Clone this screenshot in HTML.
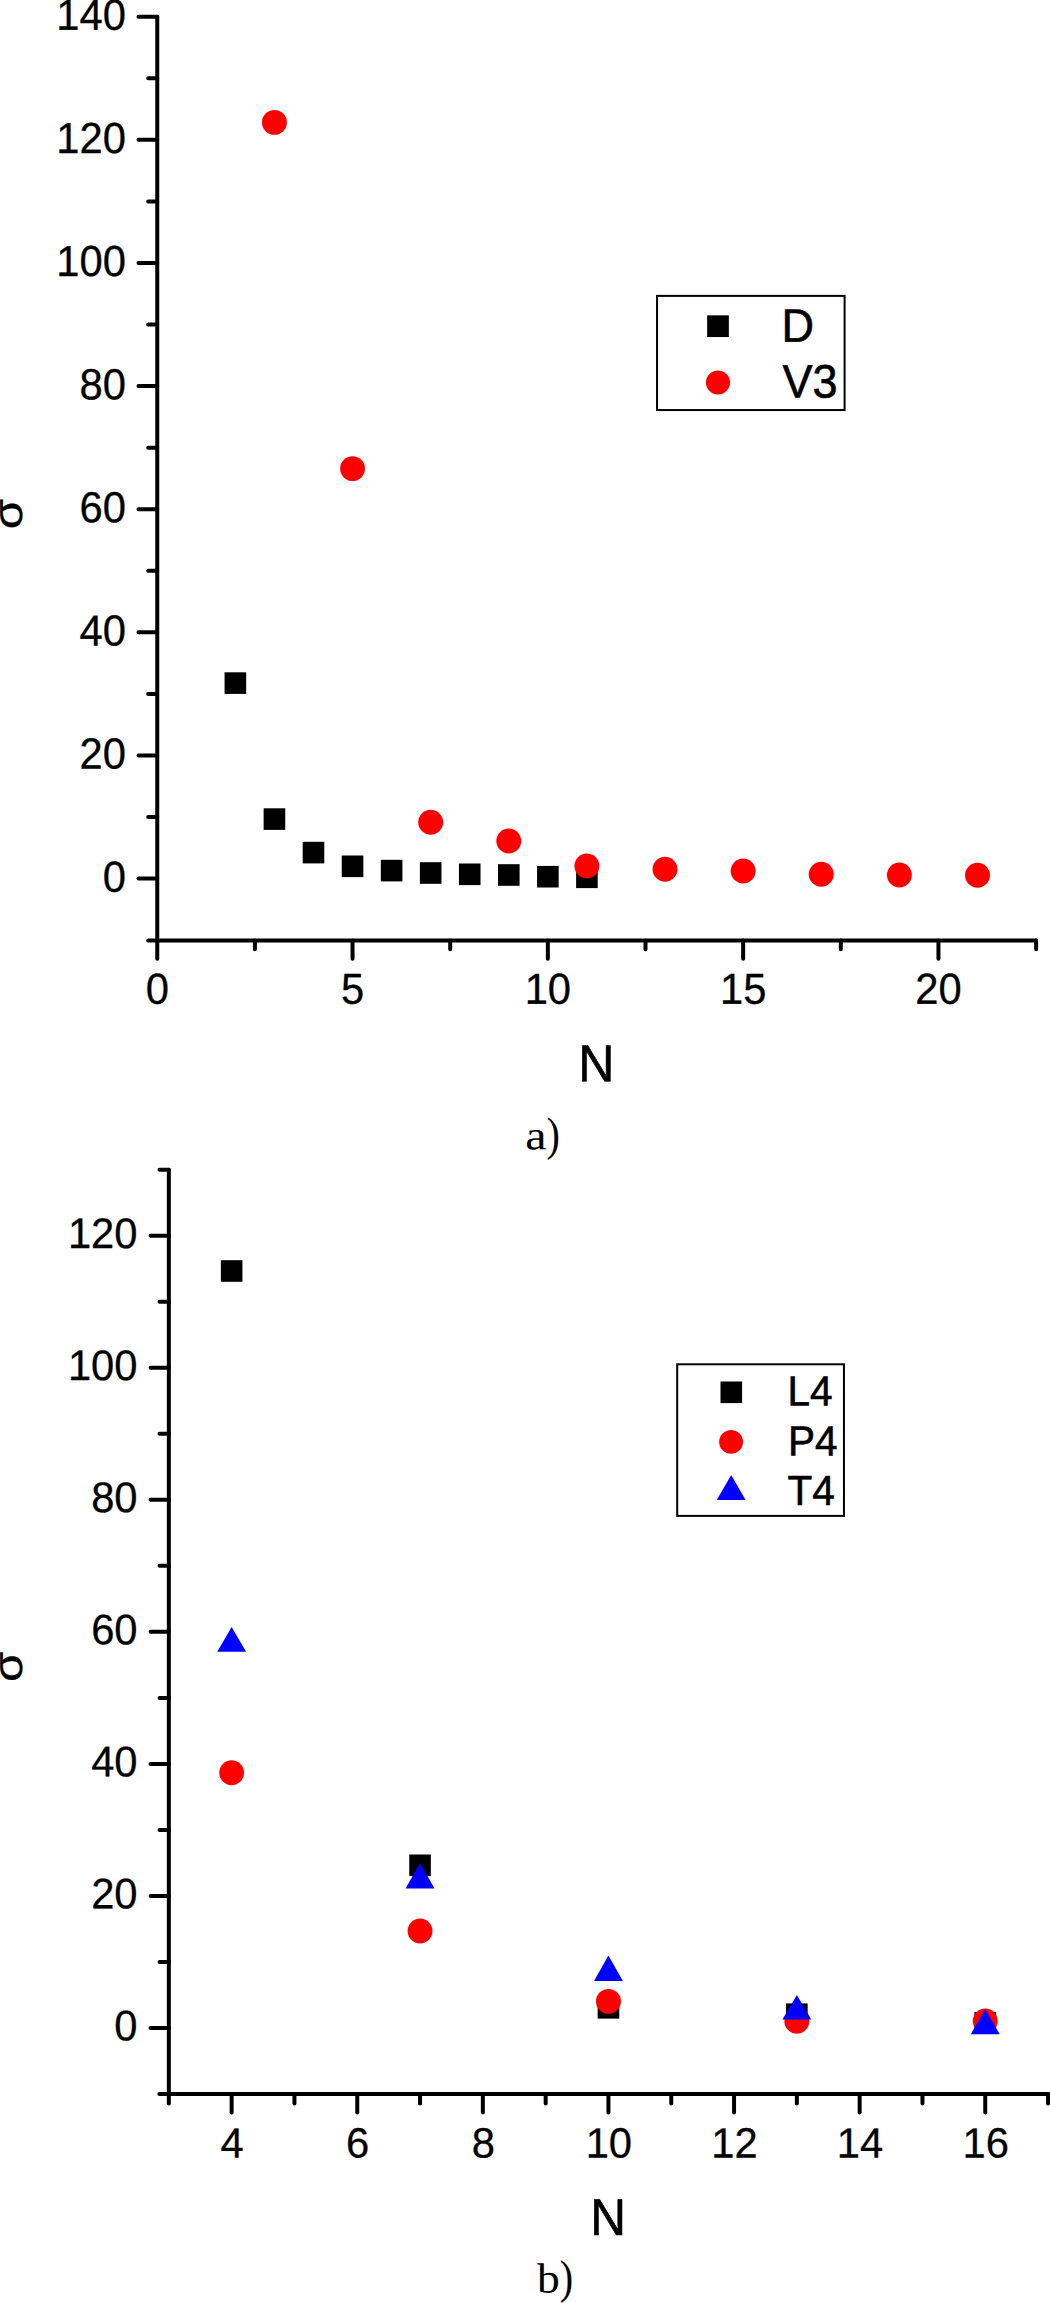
<!DOCTYPE html>
<html><head><meta charset="utf-8"><title>plots</title>
<style>html,body{margin:0;padding:0;background:#fff}svg{display:block}.t{font-family:"Liberation Sans",sans-serif;fill:#000;stroke:#000;stroke-width:.3;text-rendering:geometricPrecision}.b{stroke-width:.6}.s{font-family:"Liberation Serif",serif;fill:#000}.ax{stroke:#000;stroke-width:4.0;stroke-linecap:round;fill:none}</style></head><body>
<svg width="1050" height="2303" viewBox="0 0 1050 2303">
<rect width="1050" height="2303" fill="#fff"/>
<g class="ax">
<path d="M157.25 16.7 V958.8"/>
<path d="M148.2 940.4 H1036.1"/>
<path d="M157.25 878.6H138.5M157.25 817.04H148.2M157.25 755.47H138.5M157.25 693.91H148.2M157.25 632.34H138.5M157.25 570.78H148.2M157.25 509.22H138.5M157.25 447.65H148.2M157.25 386.09H138.5M157.25 324.52H148.2M157.25 262.96H138.5M157.25 201.4H148.2M157.25 139.83H138.5M157.25 78.27H148.2M157.25 16.7H138.5M254.9 940.4V949.2M352.55 940.4V958.8M450.2 940.4V949.2M547.85 940.4V958.8M645.5 940.4V949.2M743.15 940.4V958.8M840.8 940.4V949.2M938.45 940.4V958.8M1036.1 940.4V949.2"/>
</g>
<g class="t" font-size="41.7" text-anchor="end">
<text transform="translate(125.9 891.75) rotate(0.03) scale(1 1.04)">0</text>
<text transform="translate(125.9 768.62) rotate(0.03) scale(1 1.04)">20</text>
<text transform="translate(125.9 645.49) rotate(0.03) scale(1 1.04)">40</text>
<text transform="translate(125.9 522.37) rotate(0.03) scale(1 1.04)">60</text>
<text transform="translate(125.9 399.24) rotate(0.03) scale(1 1.04)">80</text>
<text transform="translate(125.9 276.11) rotate(0.03) scale(1 1.04)">100</text>
<text transform="translate(125.9 152.98) rotate(0.03) scale(1 1.04)">120</text>
<text transform="translate(125.9 29.85) rotate(0.03) scale(1 1.04)">140</text>
</g>
<g class="t" font-size="41.7" text-anchor="middle">
<text transform="translate(157.25 1003.7) rotate(0.03) scale(1 1.04)">0</text>
<text transform="translate(352.55 1003.7) rotate(0.03) scale(1 1.04)">5</text>
<text transform="translate(547.85 1003.7) rotate(0.03) scale(1 1.04)">10</text>
<text transform="translate(743.15 1003.7) rotate(0.03) scale(1 1.04)">15</text>
<text transform="translate(938.45 1003.7) rotate(0.03) scale(1 1.04)">20</text>
</g>
<text transform="translate(596.3 1081.2) rotate(0.03) scale(1 1.04)" class="t b" font-size="50" text-anchor="middle">N</text>
<text class="t" font-size="49" text-anchor="middle" transform="translate(22.1 514.15) rotate(-90) scale(1 0.845)">σ</text>
<text class="s" font-size="41" transform="translate(525.3 1149.3) rotate(0.03) scale(1.17 1)">a</text>
<text class="s" font-size="43" transform="translate(546.4 1150) rotate(0.03) scale(0.933 1.095)">)</text>
<g fill="#000">
<rect x="224.57" y="672.3" width="21.6" height="21.6"/>
<rect x="263.63" y="808.3" width="21.6" height="21.6"/>
<rect x="302.69" y="841.8" width="21.6" height="21.6"/>
<rect x="341.75" y="855.5" width="21.6" height="21.6"/>
<rect x="380.81" y="859.8" width="21.6" height="21.6"/>
<rect x="419.87" y="862.2" width="21.6" height="21.6"/>
<rect x="458.93" y="863.5" width="21.6" height="21.6"/>
<rect x="497.99" y="864.2" width="21.6" height="21.6"/>
<rect x="537.05" y="865.9" width="21.6" height="21.6"/>
<rect x="576.11" y="866.5" width="21.6" height="21.6"/>
</g>
<g fill="#f00">
<circle cx="274.43" cy="122.4" r="12.45"/>
<circle cx="352.55" cy="468.6" r="12.45"/>
<circle cx="430.67" cy="822.2" r="12.45"/>
<circle cx="508.79" cy="841" r="12.45"/>
<circle cx="586.91" cy="866" r="12.45"/>
<circle cx="665.03" cy="869.3" r="12.45"/>
<circle cx="743.15" cy="871" r="12.45"/>
<circle cx="821.27" cy="874.3" r="12.45"/>
<circle cx="899.39" cy="875" r="12.45"/>
<circle cx="977.51" cy="875.3" r="12.45"/>
</g>
<rect x="657.05" y="295.9" width="187.55" height="114.15" fill="#fff" stroke="#000" stroke-width="2"/>
<rect x="707.15" y="315.35" width="21.7" height="21.7" fill="#000"/>
<circle cx="718" cy="382.5" r="12.05" fill="#f00"/>
<g class="t b" font-size="45"><text transform="translate(781.5 341.8) rotate(0.03) scale(1 1.04)">D</text><text transform="translate(782.5 397.6) rotate(0.03) scale(1 1.04)">V3</text></g>
<g class="ax">
<path d="M168.85 1169.66 V2103.6"/>
<path d="M159.3 2094.1 H1048.05"/>
<path d="M168.85 2028.05H150.6M168.85 1962.02H159.5M168.85 1895.99H150.6M168.85 1829.96H159.5M168.85 1763.93H150.6M168.85 1697.9H159.5M168.85 1631.87H150.6M168.85 1565.84H159.5M168.85 1499.81H150.6M168.85 1433.78H159.5M168.85 1367.75H150.6M168.85 1301.72H159.5M168.85 1235.69H150.6M168.85 1169.66H159.5M231.65 2094.1V2112.5M294.45 2094.1V2103.4M357.25 2094.1V2112.5M420.05 2094.1V2103.4M482.85 2094.1V2112.5M545.65 2094.1V2103.4M608.45 2094.1V2112.5M671.25 2094.1V2103.4M734.05 2094.1V2112.5M796.85 2094.1V2103.4M859.65 2094.1V2112.5M922.45 2094.1V2103.4M985.25 2094.1V2112.5M1048.05 2094.1V2103.4"/>
</g>
<g class="t" font-size="41.7" text-anchor="end">
<text transform="translate(137.5 2040.35) rotate(0.03) scale(1 1.025)">0</text>
<text transform="translate(137.5 1908.29) rotate(0.03) scale(1 1.025)">20</text>
<text transform="translate(137.5 1776.23) rotate(0.03) scale(1 1.025)">40</text>
<text transform="translate(137.5 1644.17) rotate(0.03) scale(1 1.025)">60</text>
<text transform="translate(137.5 1512.11) rotate(0.03) scale(1 1.025)">80</text>
<text transform="translate(137.5 1380.05) rotate(0.03) scale(1 1.025)">100</text>
<text transform="translate(137.5 1247.99) rotate(0.03) scale(1 1.025)">120</text>
</g>
<g class="t" font-size="41.7" text-anchor="middle">
<text transform="translate(232.05 2157.4) rotate(0.03) scale(1 1.015)">4</text>
<text transform="translate(357.65 2157.4) rotate(0.03) scale(1 1.015)">6</text>
<text transform="translate(483.25 2157.4) rotate(0.03) scale(1 1.015)">8</text>
<text transform="translate(608.85 2157.4) rotate(0.03) scale(1 1.015)">10</text>
<text transform="translate(734.45 2157.4) rotate(0.03) scale(1 1.015)">12</text>
<text transform="translate(860.05 2157.4) rotate(0.03) scale(1 1.015)">14</text>
<text transform="translate(985.65 2157.4) rotate(0.03) scale(1 1.015)">16</text>
</g>
<text transform="translate(608.2 2235) rotate(0.03) scale(1 1.04)" class="t b" font-size="49.5" text-anchor="middle">N</text>
<text class="t" font-size="49" text-anchor="middle" transform="translate(22.1 1666.85) rotate(-90) scale(1 0.845)">σ</text>
<text class="s" font-size="42.2" transform="translate(537 2292.6) rotate(0.03) scale(1.077 1)">b</text>
<text class="s" font-size="43" transform="translate(559.7 2293.3) rotate(0.03) scale(0.933 1.095)">)</text>
<g fill="#000">
<rect x="220.85" y="1260.2" width="21.6" height="21.6"/>
<rect x="409.25" y="1854.5" width="21.6" height="21.6"/>
<rect x="597.65" y="1997" width="21.6" height="21.6"/>
<rect x="786.05" y="2003.4" width="21.6" height="21.6"/>
<rect x="974.45" y="2012" width="21.6" height="21.6"/>
</g>
<g fill="#f00">
<circle cx="231.65" cy="1772.7" r="12.45"/>
<circle cx="420.05" cy="1931" r="12.45"/>
<circle cx="608.45" cy="2001.4" r="12.45"/>
<circle cx="796.85" cy="2021.3" r="12.45"/>
<circle cx="985.25" cy="2021" r="12.45"/>
</g>
<g fill="#00f">
<path d="M231.65 1626.9L246.1 1651.8H217.2Z"/>
<path d="M420.05 1862.9L434.5 1888.5H405.6Z"/>
<path d="M608.45 1955.6L622.9 1980.9H594Z"/>
<path d="M796.85 1994.9L811.3 2019.5H782.4Z"/>
<path d="M985.25 2009.3L999.7 2034.2H970.8Z"/>
</g>
<rect x="677.2" y="1364.3" width="166.75" height="151.6" fill="#fff" stroke="#000" stroke-width="2"/>
<rect x="720.5" y="1381.5" width="21.6" height="21.6" fill="#000"/>
<circle cx="731.1" cy="1441.9" r="11.95" fill="#f00"/>
<path d="M731.2 1475L745.65 1499.9H716.75Z" fill="#00f"/>
<g class="t b" font-size="40.5"><text transform="translate(787.4 1405.6) rotate(0.03) scale(1 1.04)">L4</text><text transform="translate(788 1455.6) rotate(0.03) scale(1 1.04)">P4</text><text transform="translate(787.6 1504.9) rotate(0.03) scale(1 1.04)">T4</text></g>
</svg></body></html>
